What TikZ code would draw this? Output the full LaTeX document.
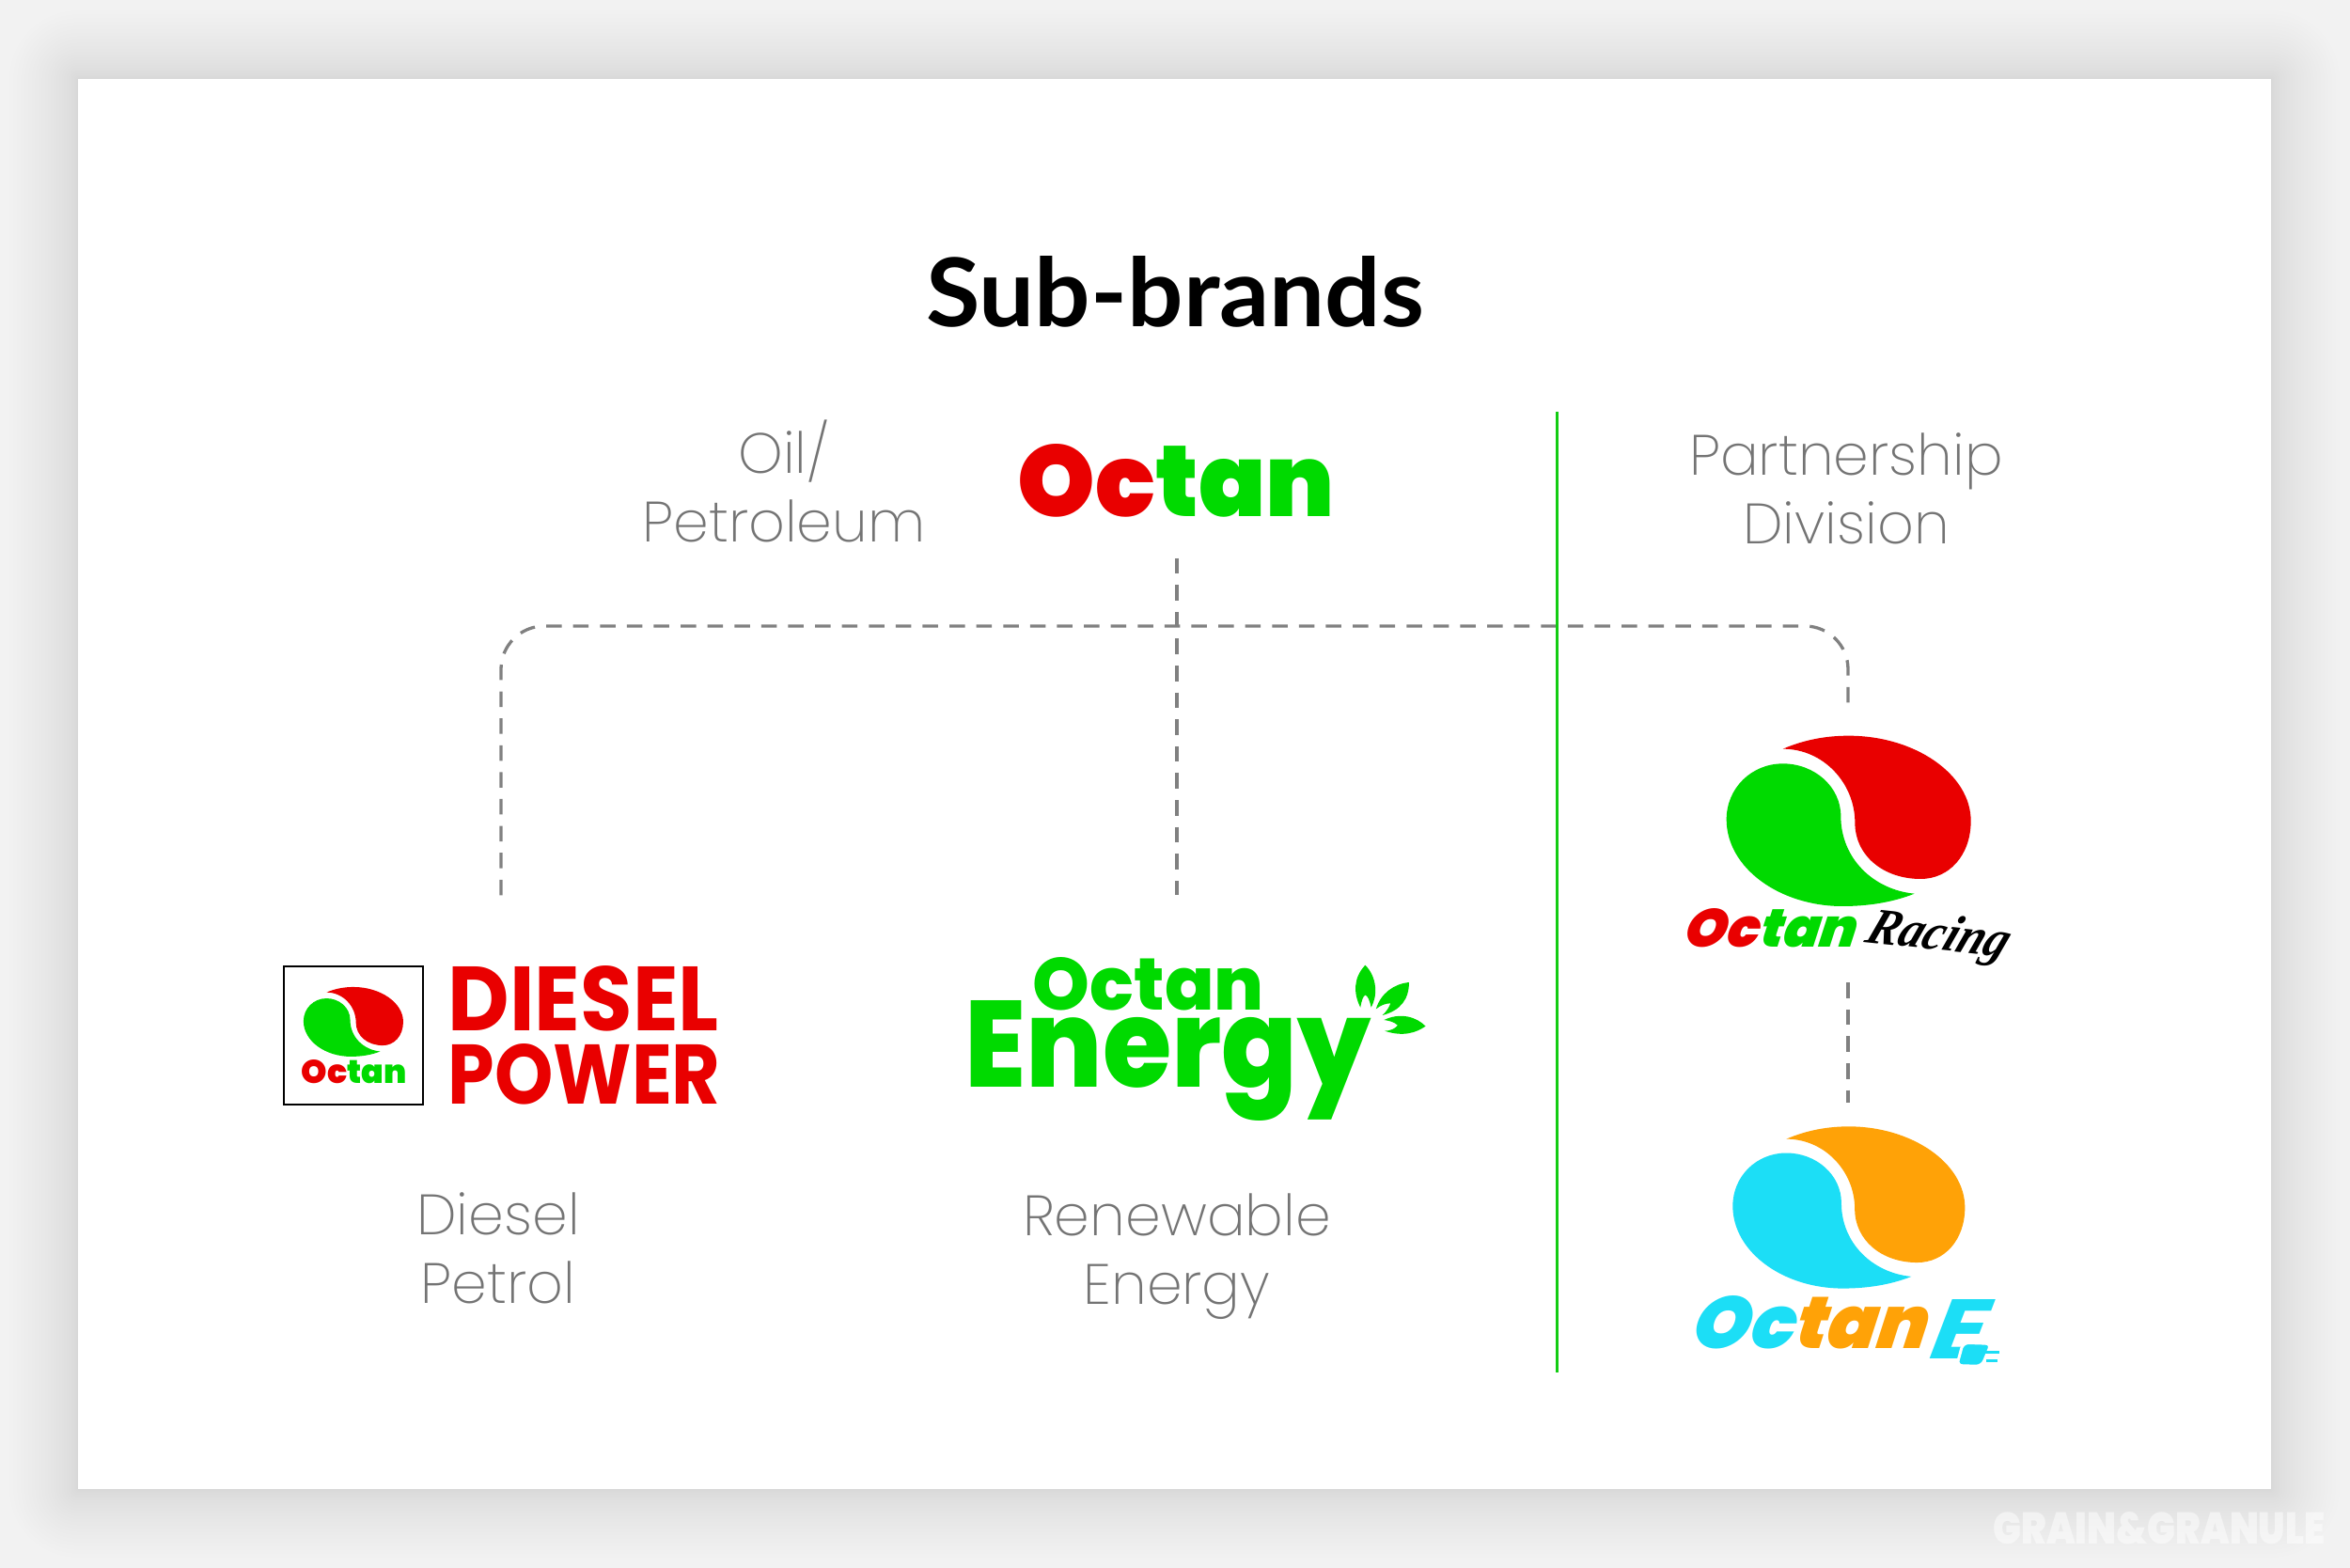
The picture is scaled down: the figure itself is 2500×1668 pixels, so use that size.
\documentclass[tikz,border=0pt]{standalone}
\usepackage{graphicx}
\usepackage{fontspec}
\newfontfamily\labelfont{Poppins ExtraLight}
\newfontfamily\titlefont{Lato Bold}
\newfontfamily\heavyfont{Poppins Black}
\newfontfamily\boldfont{Poppins}[UprightFont=*-Bold]
\newfontfamily\extrafont{Poppins ExtraBold}
\newfontfamily\heavyslant{Poppins Black}[FakeSlant=0.32]
\newfontfamily\boldslant{Poppins}[UprightFont=*-Bold, FakeSlant=0.32]
\newfontfamily\racingfont{Liberation Serif Bold Italic}[FakeSlant=0.3]
\usetikzlibrary{calc}

\definecolor{octanred}{HTML}{E90000}
\definecolor{octangreen}{HTML}{00DA00}
\definecolor{octancyan}{HTML}{1CDEF6}
\definecolor{octanorange}{HTML}{FFA207}
\definecolor{linegray}{HTML}{808080}
\definecolor{labelgray}{HTML}{747474}
\definecolor{rulegreen}{HTML}{12CC12}
\definecolor{pagegray}{HTML}{F2F2F2}

\newlength\pxunit
\setlength\pxunit{0.1mm}
\newcommand{\fitlogo}[3]{\resizebox{#1\pxunit}{#2\pxunit}{#3}}
\newcommand{\octanmark}[2]{%
  \fill[#1] (410,157) .. controls (510,157) and (595,230) .. (595,325) .. controls (595,460) and (700,560) .. (830,572) .. controls (760,600) and (680,612) .. (600,612) .. controls (400,612) and (230,490) .. (230,335) .. controls (230,235) and (310,157) .. (410,157) -- cycle;
  \fill[#2] (410,110) .. controls (480,80) and (550,68) .. (620,68) .. controls (830,68) and (1010,190) .. (1010,340) .. controls (1010,450) and (940,525) .. (850,525) .. controls (730,525) and (640,450) .. (640,345) .. controls (640,220) and (540,110) .. (410,110) -- cycle;
}

\tikzset{
  sublabel/.style={font=\labelfont\fontsize{17.2}{20.8}\selectfont, text=labelgray, align=center, inner sep=0pt},
  logotext/.style={inner sep=0pt, anchor=base west},
  logoslot/.style={inner sep=0pt, minimum width=300\pxunit},
  dashline/.style={draw=linegray, line width=.33mm, dash pattern=on 1.65mm off 1.21mm},
}

\begin{document}
\begin{tikzpicture}[x=0.1mm, y=-0.1mm]
  \useasboundingbox (0, 0) rectangle (2500, 1668);
  \fill[pagegray] (0, 0) rectangle (2500, 1668);
  \foreach \i in {1, ..., 26} {
    \pgfmathsetmacro{\r}{0.55*\i^1.5}
    \fill[black, opacity=.005, rounded corners=\r*0.1mm] ({83-\r}, {84-\r}) rectangle ({2416+\r}, {1584+\r});
  }
  \fill[white] (83, 84) rectangle (2416, 1584);

  \node[inner sep=0pt, anchor=base] (title) at (1250, 348) {\fitlogo{530}{75}{\titlefont Sub-brands}};

  \node[sublabel] (oil) at (834, 512) {Oil/\\Petroleum};
  \node[sublabel] (partnership) at (1964, 520) {Partnership\\Division};
  \node[sublabel] (dieseltext) at (530, 1328) {Diesel\\Petrol};
  \node[sublabel] (renewable) at (1252, 1337) {Renewable\\Energy};

  \node[logoslot, minimum height=132\pxunit] (octan) at (1252, 527) {};
  \node[logoslot, minimum height=230\pxunit] (diesel) at (533, 1068) {};
  \node[logoslot, minimum height=230\pxunit] (energy) at (1252, 1068) {};
  \node[logoslot, minimum height=295\pxunit] (racing) at (1966, 897) {};
  \node[logoslot, minimum height=290\pxunit] (electric) at (1966, 1319) {};
  \coordinate (hub) at (1252, 666);
  \coordinate (ruletop) at (1656, 438);
  \coordinate (rulebottom) at (1656, 1460);

  \draw[dashline] (octan.south) -- (energy.north);
  \draw[dashline, rounded corners=4.6mm] (diesel.north) |- (hub) -| (racing.north);
  \draw[dashline] (racing.south) -- (electric.north);
  \draw[rulegreen, line width=.3mm] (ruletop) -- (rulebottom);

  \node[logotext] (octanword) at (1082, 550) {\fitlogo{337}{77}{\heavyfont\textcolor{octanred}{Oc}\textcolor{octangreen}{tan}}};

  \node[draw=black, line width=.15mm, fill=white, minimum width=148\pxunit, minimum height=147\pxunit, inner sep=0pt] (dieselbox) at (376, 1101.5) {};
  \begin{scope}[shift={(291.6, 1040.7)}, scale=.136]
    \octanmark{octangreen}{octanred}
  \end{scope}
  \node[logotext] (dieselsmall) at (320, 1153) {\fitlogo{112}{25}{\heavyfont\textcolor{octanred}{Oc}\textcolor{octangreen}{tan}}};
  \node[logotext] (dieselword) at (476, 1097) {\fitlogo{288}{69}{\boldfont\textcolor{octanred}{DIESEL}}};
  \node[logotext] (powerword) at (476, 1175) {\fitlogo{290}{64}{\boldfont\textcolor{octanred}{POWER}}};

  \node[logotext] (energysmall) at (1098, 1075) {\fitlogo{246}{56}{\extrafont\textcolor{octangreen}{Octan}}};
  \node[logotext] (energyword) at (1026, 1157) {\fitlogo{432}{92}{\extrafont\textcolor{octangreen}{Energy}}};
  \begin{scope}[shift={(1000, 980)}, xscale=1/2.9, yscale=1/3]
    \fill[octangreen] (1312,140) .. controls (1350,180) and (1350,240) .. (1330,275) .. controls (1325,250) and (1320,240) .. (1312,235) .. controls (1305,240) and (1300,255) .. (1297,275) .. controls (1275,230) and (1275,180) .. (1312,140) -- cycle;
    \fill[octangreen] (1447,195) .. controls (1447,250) and (1420,285) .. (1365,300) .. controls (1380,285) and (1385,275) .. (1390,262) .. controls (1375,262) and (1360,268) .. (1345,280) .. controls (1360,230) and (1400,200) .. (1447,195) -- cycle;
    \fill[octangreen] (1498,335) .. controls (1470,355) and (1430,370) .. (1372,350) .. controls (1390,350) and (1405,342) .. (1412,332) .. controls (1400,320) and (1385,318) .. (1370,315) .. controls (1420,290) and (1470,305) .. (1498,335) -- cycle;
  \end{scope}

  \begin{scope}[shift={(1760, 760)}, scale=1/3]
    \octanmark{octangreen}{octanred}
  \end{scope}
  \node[logotext] (racingword) at (1788, 1008) {\fitlogo{183}{41}{\heavyslant\textcolor{octanred}{Oc}\textcolor{octangreen}{tan}}};
  \node[logotext, rotate=-6] (racingscript) at (1982, 1002) {\fitlogo{150}{38}{\racingfont Racing}};

  \begin{scope}[shift={(1770.5, 1176.8)}, scale=.95/3]
    \octanmark{octancyan}{octanorange}
  \end{scope}
  \node[logotext] (electricword) at (1795, 1434) {\fitlogo{250}{56}{\heavyslant\textcolor{octancyan}{Oc}\textcolor{octanorange}{tan}}};
  \node[logotext] (electricE) at (2046, 1445) {\fitlogo{58}{63}{\boldslant\textcolor{octancyan}{E}}};
  \begin{scope}[shift={(1760, 1180)}, scale=1/3]
    \draw[white, fill=octancyan, line width=.3mm, rounded corners=.6mm] (985,745) -- (1075,748) -- (1045,820) -- (965,818) -- cycle;
    \draw[octancyan, line width=.25mm] (1055,775) -- (1100,775);
    \draw[octancyan, line width=.25mm] (1060,803) -- (1095,803);
  \end{scope}

  \node[logotext, opacity=.5] (watermark) at (2120, 1642) {\fitlogo{353}{34}{\heavyfont\textcolor{white}{GRAIN\&GRANULE}}};
\end{tikzpicture}
\end{document}
